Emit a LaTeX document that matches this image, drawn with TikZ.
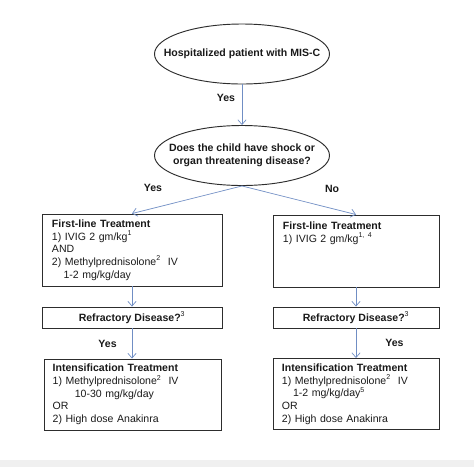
\documentclass[tikz,border=0pt]{standalone}
\usepackage{fontspec}
\setmainfont{Liberation Sans}
\usetikzlibrary{arrows.meta,positioning,shapes.geometric}

\definecolor{edgeblue}{RGB}{112,142,196}
\definecolor{boxline}{RGB}{45,45,45}

\begin{document}
\begin{tikzpicture}[
  x=0.03cm, y=-0.03cm,
  font=\fontsize{9}{10.8}\selectfont,
  decision/.style={draw=boxline, line width=0.8pt, ellipse, minimum width=5.25cm, minimum height=1.8cm, inner sep=0pt},
  txt/.style={font=\fontsize{9}{11}\selectfont\bfseries, align=center, text=black!90},
  block/.style={draw=boxline, line width=0.8pt, rectangle, align=left, inner xsep=0.3cm, inner ysep=0pt, text=black!90},
  query/.style={draw=boxline, line width=0.8pt, rectangle, minimum height=0.63cm, inner sep=0pt, font=\fontsize{9}{10.8}\selectfont\bfseries, text=black!90},
  tag/.style={font=\fontsize{9}{10.8}\selectfont\bfseries, inner sep=0pt, text=black!90},
  line/.style={-{Straight Barb[length=4pt,width=7pt]}, edgeblue, line width=0.6pt}
]
\useasboundingbox (0,0) rectangle (474,467);
\fill[black!6] (0,460) rectangle (474,467);

% decisions
\node[decision, label={[txt]center:Hospitalized patient with MIS-C}] (admit) at (242,54) {};
\node[decision, label={[txt]center:Does the child have shock or\\organ threatening disease?}] (shock) at (242,155.5) {};

% first-line treatment
\node[block, text width=4.8cm, minimum height=2.16cm] (firstA) at (132,250) {%
  \textbf{First-line Treatment}\\
  1) IVIG 2 gm/kg\textsuperscript{1}\\
  AND\\
  2) Methylprednisolone\textsuperscript{2}\ \ IV\\
  \hspace*{1.1em}1-2 mg/kg/day};
\node[block, text width=4.38cm, minimum height=2.16cm] (firstB) at (356,251) {%
  \textbf{First-line Treatment}\\
  1) IVIG 2 gm/kg\textsuperscript{1, 4}\\
  ~\\ ~\\ ~};

% refractory
\node[query, minimum width=5.4cm] (refA) at (132,317.5) {Refractory Disease?\textsuperscript{\mdseries 3}};
\node[query, minimum width=4.98cm] (refB) at (356,317.5) {Refractory Disease?\textsuperscript{\mdseries 3}};

% intensification
\node[block, inner xsep=0.26cm, text width=4.79cm, minimum height=2.13cm] (intA) at (132.5,394.5) {%
  \textbf{Intensification Treatment}\\
  1) Methylprednisolone\textsuperscript{2}\ \ IV\\
  \hspace*{2.1em}10-30 mg/kg/day\\
  OR\\
  2) High dose Anakinra};
\node[block, inner xsep=0.27cm, text width=4.44cm, minimum height=2.13cm] (intB) at (356,394) {%
  \textbf{Intensification Treatment}\\
  1) Methylprednisolone\textsuperscript{2}\ \ IV\\
  \hspace*{1.05em}1-2 mg/kg/day\textsuperscript{5}\\
  OR\\
  2) High dose Anakinra};

\draw[line] (admit) -- node[tag, pos=0.33, left=0.2cm] {Yes} (shock);
\draw[line] (shock.south) -- node[tag, pos=0.81, yshift=0.6cm] {Yes} (firstA.north);
\draw[line] (shock.south) -- node[tag, pos=0.79, yshift=0.6cm] {No} (firstB.north);
\draw[line] (firstA) -- (refA);
\draw[line] (firstB) -- (refB);
\draw[line] (refA) -- node[tag, midway, left=0.45cm] {Yes} (intA.north -| refA.south);
\draw[line] (refB) -- node[tag, midway, right=0.87cm] {Yes} (intB);
\end{tikzpicture}
\end{document}
